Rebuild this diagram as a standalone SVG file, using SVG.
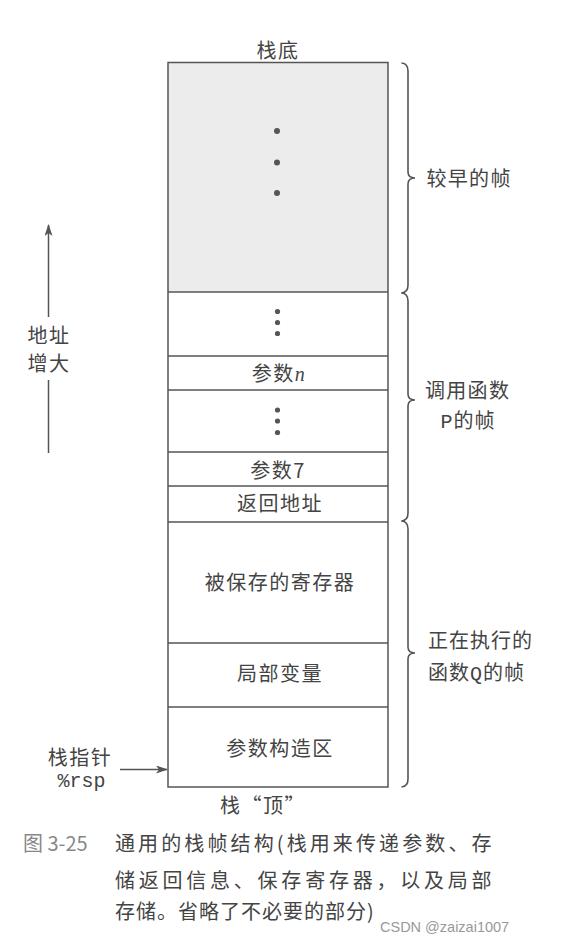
<svg xmlns="http://www.w3.org/2000/svg" width="564" height="943" viewBox="0 0 564 943">
<style>
.t{font-family:"Noto Sans CJK SC","Noto Sans",sans-serif;font-size:20px;fill:#444;letter-spacing:1.5px}
.m{font-family:"Liberation Mono",monospace}
.c{text-anchor:middle}
.ln{stroke:#555;stroke-width:1.5;fill:none}
.br{stroke:#555;stroke-width:1.6;fill:none}
.dot{fill:#555}
</style>
<defs>
<marker id="ah" viewBox="0 0 12 8" refX="11" refY="4" markerWidth="12" markerHeight="8" markerUnits="userSpaceOnUse" orient="auto">
<path d="M0,0 L12,4 L0,8 L3,4 Z" fill="#555"/>
</marker>
</defs>
<rect width="564" height="943" fill="#fff"/>
<text class="t c" x="278" y="57.6">栈底</text>
<g id="stack">
<rect x="168" y="62.5" width="220" height="229" fill="#ececec"/>
<rect x="168" y="62.5" width="220" height="724.5" class="ln"/>
<line class="ln" x1="168" y1="292" x2="388" y2="292"/>
<line class="ln" x1="168" y1="356" x2="388" y2="356"/>
<line class="ln" x1="168" y1="390" x2="388" y2="390"/>
<line class="ln" x1="168" y1="452" x2="388" y2="452"/>
<line class="ln" x1="168" y1="486" x2="388" y2="486"/>
<line class="ln" x1="168" y1="522" x2="388" y2="522"/>
<line class="ln" x1="168" y1="643" x2="388" y2="643"/>
<line class="ln" x1="168" y1="707" x2="388" y2="707"/>
</g>
<g id="earlier-dots">
<circle class="dot" cx="277" cy="131" r="3"/>
<circle class="dot" cx="277" cy="162.5" r="3"/>
<circle class="dot" cx="277" cy="193" r="3"/>
</g>
<g id="p-dots1">
<circle class="dot" cx="277.5" cy="311.5" r="2.6"/>
<circle class="dot" cx="277.5" cy="322.5" r="2.6"/>
<circle class="dot" cx="277.5" cy="333.5" r="2.6"/>
</g>
<g id="arg-n"><text class="t c" x="279" y="380.6">参数<tspan font-family="Liberation Serif" font-style="italic">n</tspan></text></g>
<g id="p-dots2">
<circle class="dot" cx="277.5" cy="410" r="2.6"/>
<circle class="dot" cx="277.5" cy="421" r="2.6"/>
<circle class="dot" cx="277.5" cy="432.5" r="2.6"/>
</g>
<g id="arg-7"><text class="t c" x="278" y="477.6">参数7</text></g>
<g id="ret-addr"><text class="t c" x="280" y="510.6">返回地址</text></g>
<g id="saved-regs"><text class="t c" x="280" y="589.6">被保存的寄存器</text></g>
<g id="locals"><text class="t c" x="280" y="680.6">局部变量</text></g>
<g id="arg-build"><text class="t c" x="280" y="755.6">参数构造区</text></g>
<g id="addr-label">
<text class="t c" x="49" y="342.6">地址</text>
<text class="t c" x="49" y="370.6">增大</text>
</g>
<g id="sp-label">
<text class="t c" x="80" y="764.6">栈指针</text>
<text class="t c m" x="81.5" y="787" style="letter-spacing:0">%rsp</text>
</g>
<text class="t c" x="263" y="812.6">栈“顶”</text>
<g id="braces">
<path class="br" d="M401.5,63 Q408,63.5 408,71 L408,172 Q408,178 415,178 Q408,178 408,184 L408,285 Q408,292.5 401.5,293"/>
<path class="br" d="M401.5,293 Q408,293.5 408,301 L408,394 Q408,400 415,400 Q408,400 408,406 L408,513 Q408,520.5 401.5,521"/>
<path class="br" d="M401.5,521 Q408,521.5 408,529 L408,647 Q408,653 415,653 Q408,653 408,659 L408,779 Q408,786.5 401.5,787"/>
</g>
<g id="frame-labels">
<text class="t" x="426.5" y="185.6" style="letter-spacing:1.3px">较早的帧</text>
<text class="t" x="425" y="397.6" style="letter-spacing:1.3px">调用函数</text>
<text class="t c" x="468" y="427.6" style="letter-spacing:1px"><tspan class="m">P</tspan>的帧</text>
<text class="t" x="428" y="647.6" style="letter-spacing:1px">正在执行的</text>
<text class="t" x="428" y="679.6" style="letter-spacing:1px">函数<tspan class="m">Q</tspan>的帧</text>
</g>
<g id="connectors">
<line class="ln" x1="48.5" y1="453" x2="48.5" y2="380"/>
<line class="ln" x1="48.5" y1="317" x2="48.5" y2="225" marker-end="url(#ah)"/>
<line class="ln" x1="120" y1="769.5" x2="167" y2="769.5" marker-end="url(#ah)"/>
</g>
<g id="caption">
<text class="t" x="23" y="850.6" style="fill:#888;letter-spacing:0">图 3-25</text>
<text class="t" x="115" y="850.6" textLength="378" lengthAdjust="spacing">通用的栈帧结构(栈用来传递参数、存</text>
<text class="t" x="115" y="887.6" textLength="378" lengthAdjust="spacing">储返回信息、保存寄存器，以及局部</text>
<text class="t" x="115" y="919" style="letter-spacing:1px">存储。省略了不必要的部分)</text>
</g>
<text x="380" y="932" style="font-family:'Liberation Sans',sans-serif;font-size:14.5px;fill:#999">CSDN @zaizai1007</text>
</svg>
